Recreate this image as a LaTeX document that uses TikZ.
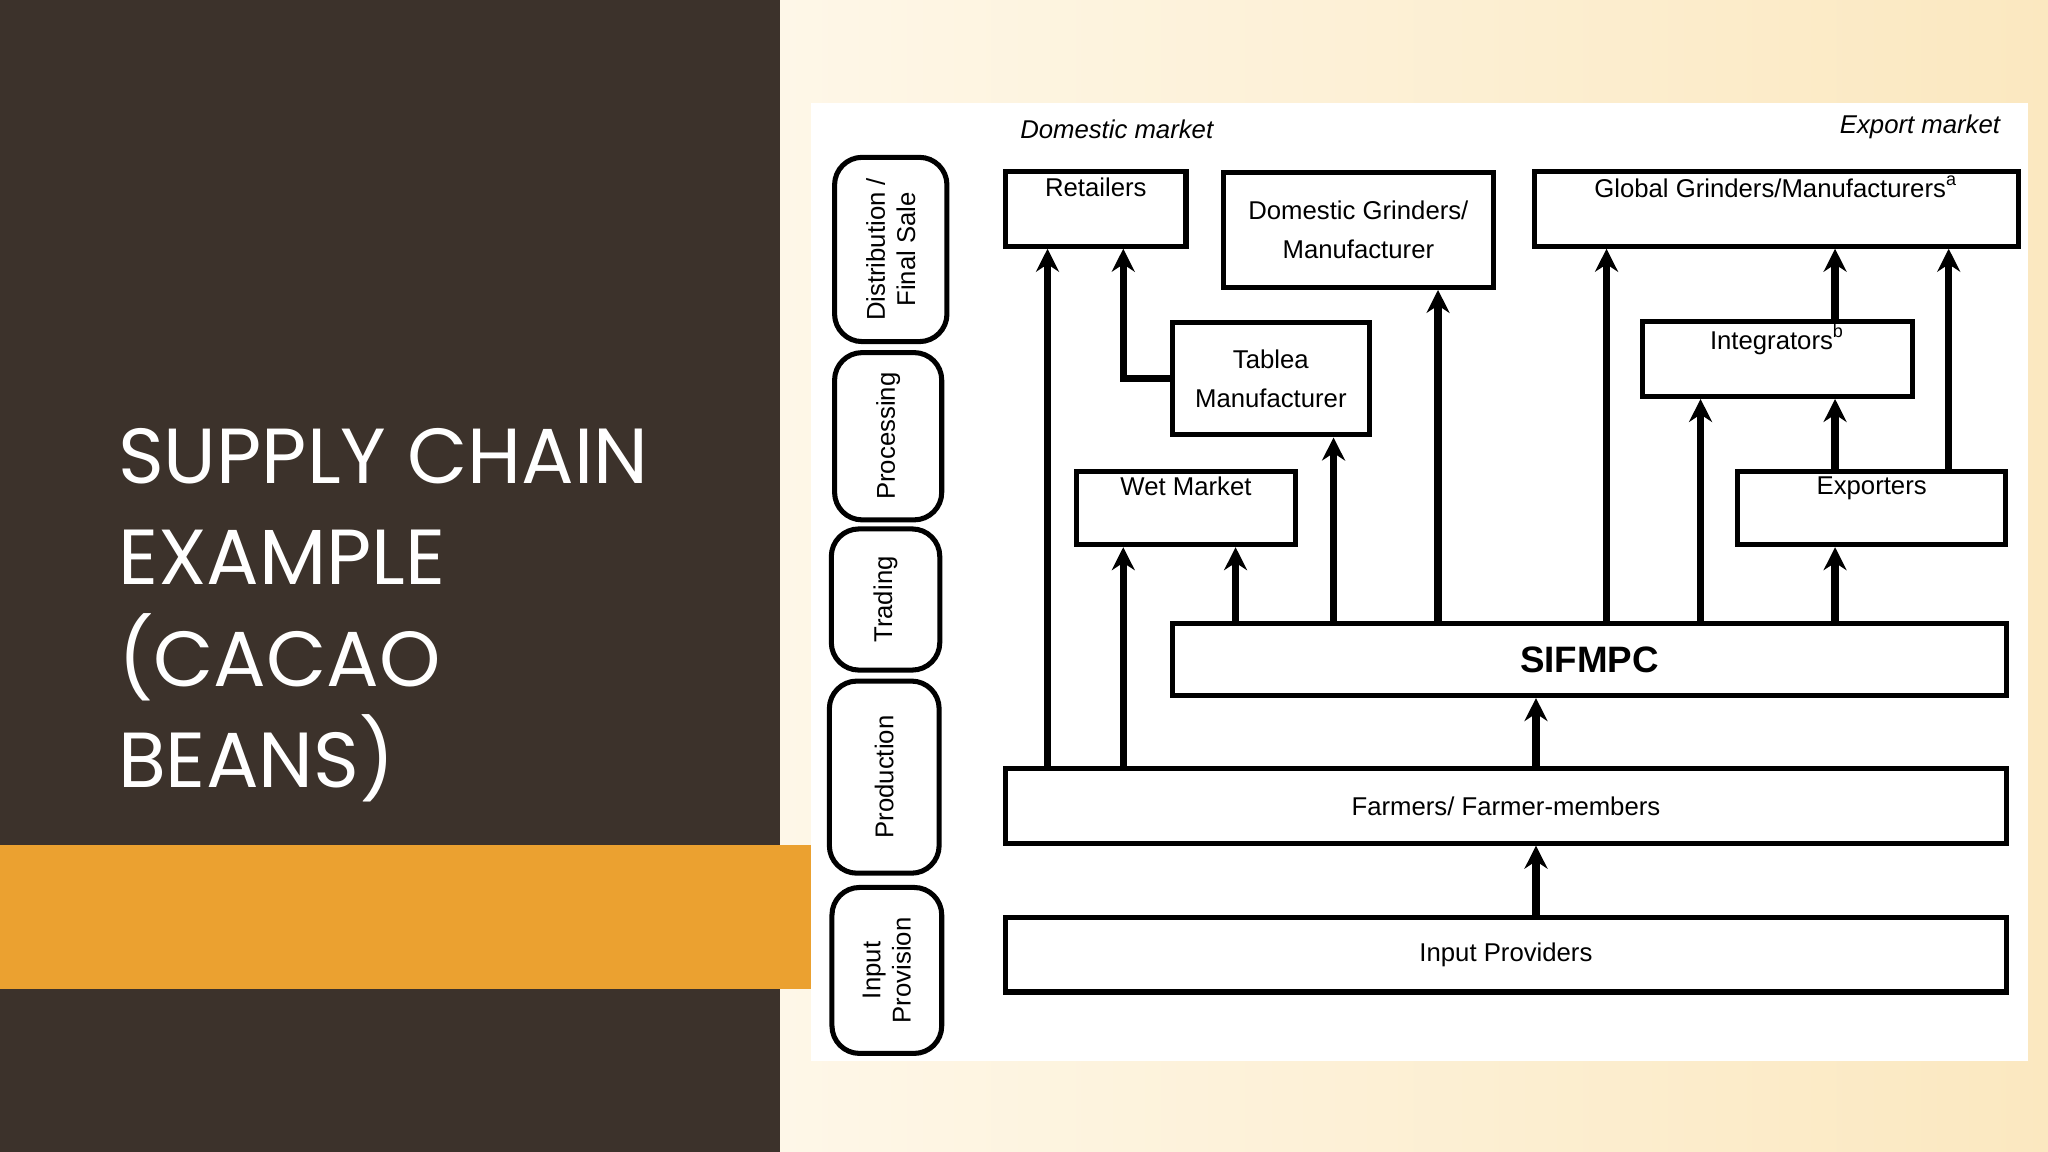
\documentclass[tikz,border=0pt]{standalone}
\usepackage{fontspec}
\setmainfont{Liberation Sans}
\newfontfamily\titlefont{Poppins}
\usetikzlibrary{positioning, arrows.meta}
\definecolor{panelbrown}{HTML}{3C322B}
\definecolor{barorange}{HTML}{EBA130}
\definecolor{creamA}{HTML}{FEF7E8}
\definecolor{creamB}{HTML}{FBE8C0}
\begin{document}
\begin{tikzpicture}[x=0.01cm, y=-0.01cm,
  every node/.style={font=\fontsize{5.6}{6.6}\selectfont},
  box/.style={draw, line width=1.1pt, fill=white, align=center, inner sep=0pt},
  stage/.style={draw, line width=1.1pt, rounded corners=6pt, fill=white, inner sep=0pt},
  up/.style={-{Stealth[length=5pt,width=5pt]}, line width=1.6pt}]
  % Background
  \useasboundingbox (0,0) rectangle (1568,882);
  \shade[left color=creamA, right color=creamB] (597,0) rectangle (1568,882);
  \fill[panelbrown] (0,0) rectangle (597,882);
  \fill[barorange] (0,647) rectangle (621,757);
  \node[anchor=west, text=white, align=left, font=\titlefont\fontsize{17}{22}\selectfont] (title) at (78,471)
    {SUPPLY CHAIN\\EXAMPLE\\(CACAO\\BEANS)};
  \fill[white] (621,79) rectangle (1553,812);
  % Market labels
  \node[font=\fontsize{5.6}{6.6}\selectfont\itshape] (dom) at (855,99) {Domestic market};
  \node[font=\fontsize{5.6}{6.6}\selectfont\itshape] (exp) at (1470,97) {Export market};
  % Stages
  \node[stage, minimum width=86\pgflinewidth, minimum width=0.86cm, minimum height=1.41cm] (sdist) at (682,191) {};
  \node[rotate=90, align=center] at (sdist) {Distribution /\\Final Sale};
  \node[stage, minimum width=0.82cm, minimum height=1.28cm] (sproc) at (680,334) {};
  \node[rotate=90] at (sproc) {Processing};
  \node[stage, minimum width=0.83cm, minimum height=1.08cm] (strad) at (678,459) {};
  \node[rotate=90] at (strad) {Trading};
  \node[stage, minimum width=0.84cm, minimum height=1.47cm] (sprod) at (677,595) {};
  \node[rotate=90] at (sprod) {Production};
  \node[stage, minimum width=0.84cm, minimum height=1.27cm] (sinput) at (679,743) {};
  \node[rotate=90, align=center] at (sinput) {Input\\Provision};
  % Actors
  \node[box, minimum width=1.38cm, minimum height=0.57cm] (retail) at (839,160) {Retailers\\[3pt]};
  \node[box, minimum width=2.07cm, minimum height=0.88cm] (domgr) at (1040,176) {Domestic Grinders/\\[2pt]Manufacturer};
  \node[box, minimum width=3.70cm, minimum height=0.57cm] (glob) at (1360,160) {Global Grinders/Manufacturers\textsuperscript{a}\\[3pt]};
  \node[box, minimum width=1.51cm, minimum height=0.86cm] (tablea) at (973,290) {Tablea\\[2pt]Manufacturer};
  \node[box, minimum width=2.07cm, minimum height=0.57cm] (integ) at (1361,275) {Integrators\textsuperscript{b}\\[3pt]};
  \node[box, minimum width=1.68cm, minimum height=0.56cm] (wet) at (908,389) {Wet Market\\[3pt]};
  \node[box, minimum width=2.05cm, minimum height=0.56cm] (expo) at (1433,389) {Exporters\\[3pt]};
  \node[box, minimum width=6.38cm, minimum height=0.55cm, font=\fontsize{8}{9}\selectfont\bfseries] (sif) at (1217,505) {SIFMPC};
  \node[box, minimum width=7.66cm, minimum height=0.57cm] (farm) at (1153,617) {Farmers/ Farmer-members};
  \node[box, minimum width=7.66cm, minimum height=0.57cm] (inp) at (1153,731) {Input Providers};
  % Arrows
  \draw[up] (farm.north -| 802,0) -- (retail.south -| 802,0);
  \draw[up] (farm.north -| 860,0) -- (wet.south -| 860,0);
  \draw[up] (tablea.west) -- (tablea.west -| 860,0) -- (retail.south -| 860,0);
  \draw[up] (sif.north -| 946,0) -- (wet.south -| 946,0);
  \draw[up] (sif.north -| 1021,0) -- (tablea.south -| 1021,0);
  \draw[up] (sif.north -| 1101,0) -- (domgr.south -| 1101,0);
  \draw[up] (sif.north -| 1230,0) -- (glob.south -| 1230,0);
  \draw[up] (sif.north -| 1302,0) -- (integ.south -| 1302,0);
  \draw[up] (sif.north -| 1405,0) -- (expo.south -| 1405,0);
  \draw[up] (expo.north -| 1405,0) -- (integ.south -| 1405,0);
  \draw[up] (integ.north -| 1405,0) -- (glob.south -| 1405,0);
  \draw[up] (expo.north -| 1492,0) -- (glob.south -| 1492,0);
  \draw[up] (farm.north -| 1176,0) -- (sif.south -| 1176,0);
  \draw[up] (inp.north -| 1176,0) -- (farm.south -| 1176,0);
\end{tikzpicture}
\end{document}
